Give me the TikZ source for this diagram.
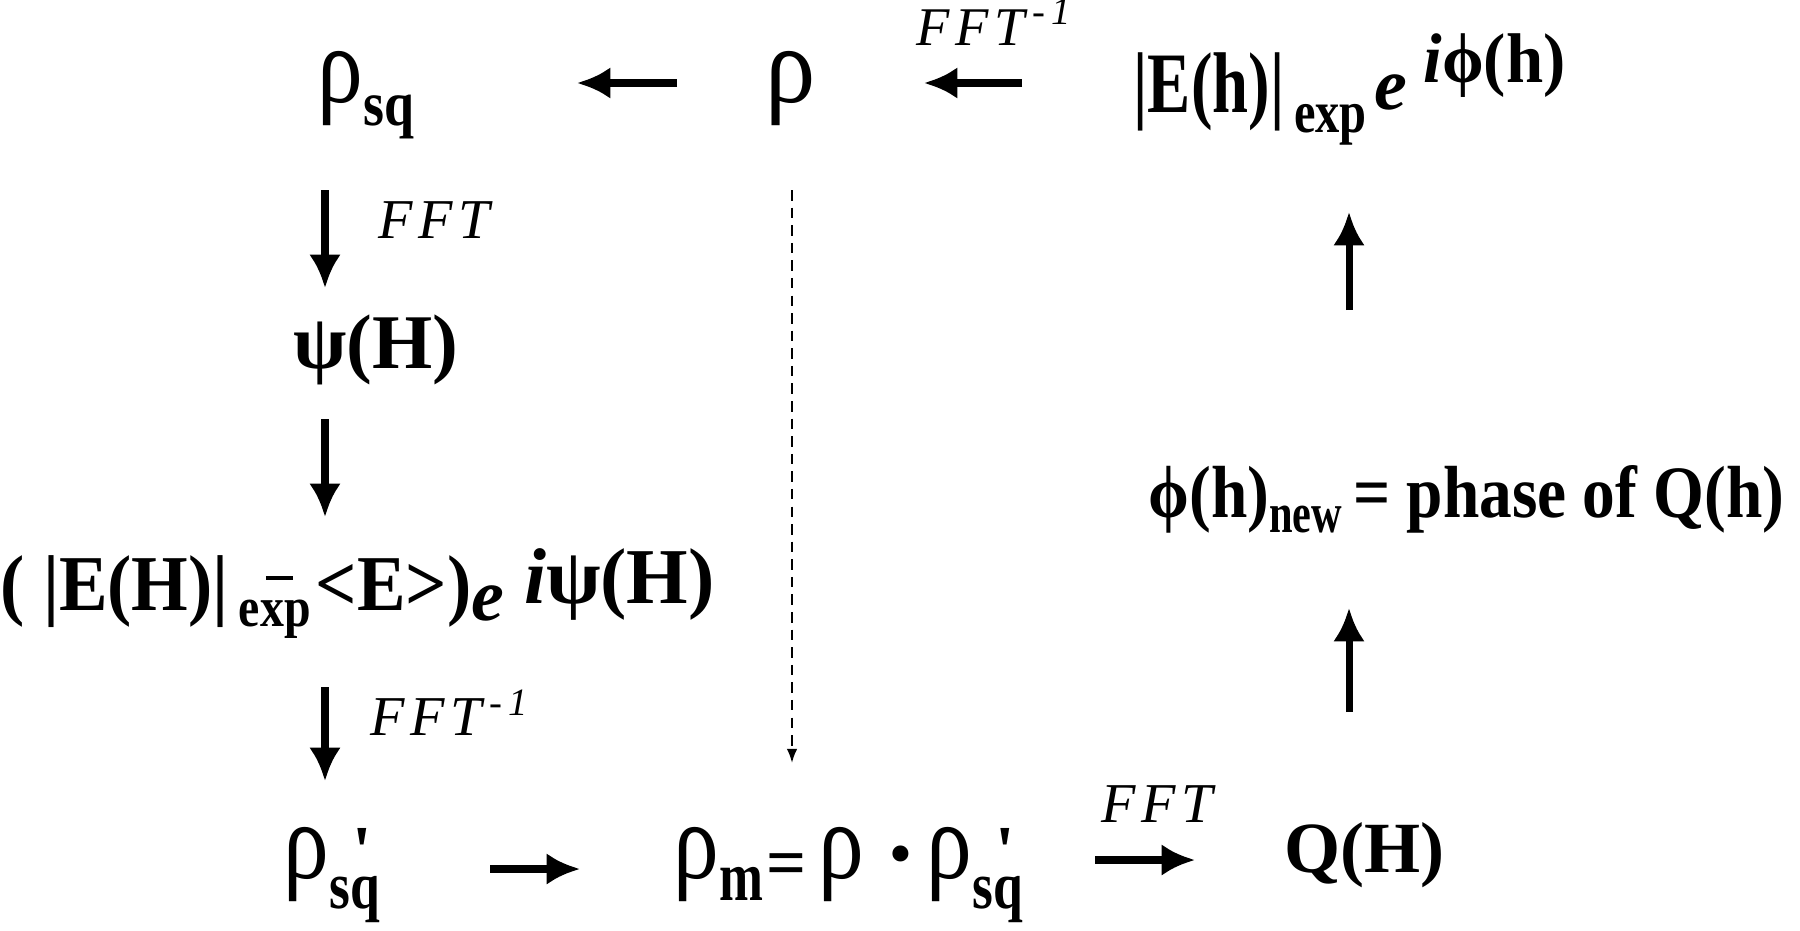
\documentclass[tikz,border=0pt]{standalone}
\usepackage{fontspec}
\setmainfont{Liberation Serif}
\usetikzlibrary{arrows.meta}
% raise, horizontal scale, size, content
\newcommand\tx[4]{\raisebox{#1}{\scalebox{#2}[1]{\fontsize{#3}{#3}\selectfont #4}}}
\newcommand\rh{\tx{2pt}{0.84}{31}{\mdseries ρ}}
\newcommand\prsq{\makebox[0pt][l]{\hspace{2.3mm}\tx{1.2mm}{1}{20}{\textquotesingle}}\tx{-2.2mm}{0.8}{19}{sq}}
\newcommand\inv{\hspace{0.8mm}\tx{2.0mm}{1}{11}{-\hspace{0.6mm}\textit{1}}}
\newcommand\fft{F\hspace{0.1em}F\hspace{0.1em}T}
\begin{document}
\begin{tikzpicture}[x=0.01cm,y=-0.01cm,
  txt/.style={inner sep=0pt, font=\fontsize{20}{24}\selectfont\bfseries},
  lbl/.style={inner sep=0pt, font=\fontsize{16}{20}\selectfont\itshape},
  arr/.style={line width=2pt, -{Latex[length=9.5pt,width=9pt]}},
  dsh/.style={line width=0.6pt, dash pattern=on 3pt off 2pt, -{Latex[length=4pt,width=3pt]}}]
\useasboundingbox (0,0) rectangle (1800,930);
% nodes
\node[txt, anchor=base west] (rsq) at (317,110) {\rh\tx{-1.5mm}{0.85}{18}{sq}};
\node[txt, anchor=base west] (rho) at (765,110) {\scalebox{1.1}[1]{\rh}};
\node[txt, anchor=base west] (Etop) at (1133,112) {\tx{0pt}{0.75}{24.5}{|E(h)|}\hspace{1mm}\tx{-2mm}{0.81}{17}{exp}\hspace{0.8mm}\tx{0.3mm}{1}{21}{\itshape e}\hspace{1.6mm}\tx{2.9mm}{0.95}{20}{\itshape i\upshape ϕ(h)}};
\node[txt, anchor=base west] (psi) at (293,368) {\tx{0pt}{1}{22}{ψ(H)}};
\node[txt, anchor=base west] (EH) at (0,610) {\tx{0pt}{0.92}{22.5}{(\ |E(H)|}\hspace{1mm}\makebox[0pt][l]{\hspace{2.7mm}\rule[3mm]{2.7mm}{0.35mm}}\tx{-1.6mm}{0.85}{16}{exp}\hspace{0.5mm}\tx{0pt}{0.92}{22.5}{<E>)}\tx{-1mm}{1}{21}{\itshape e}\hspace{2mm}\tx{0.7mm}{1}{22.5}{\itshape i\upshape ψ(H)}};
\node[txt, anchor=base west] (rsqp) at (283,886) {\rh\prsq};
\node[txt, anchor=base west] (rm) at (673,886) {\rh\tx{-1.4mm}{0.75}{20}{m}\hspace{0.3mm}=\hspace{1.2mm}\rh\hspace{2mm}\tx{0pt}{1}{28}{·}\hspace{1mm}\rh\prsq};
\node[txt, anchor=base west] (Q) at (1284,872) {\tx{0pt}{1}{20.5}{Q(H)}};
\node[txt, anchor=base west] (phi) at (1148,517) {\scalebox{0.885}[1]{\fontsize{21}{24}\selectfont ϕ(h)\tx{-1.5mm}{0.85}{16}{new}\,= phase of Q(h)}};
% labels
\node[lbl, anchor=base west] (l1) at (916,45) {\fontsize{15.5}{18}\selectfont\fft\inv};
\node[lbl, anchor=base west] (l2) at (378,238) {\fft};
\node[lbl, anchor=base west] (l3) at (370,735) {\fft\inv};
\node[lbl, anchor=base west] (l4) at (1101,822) {\fft};
% arrow end points
\coordinate (a1s) at (677,83);  \coordinate (a1e) at (577,83);
\coordinate (a2s) at (1022,83); \coordinate (a2e) at (924,83);
\coordinate (b1s) at (325,190); \coordinate (b1e) at (325,288);
\coordinate (b2s) at (325,419); \coordinate (b2e) at (325,517);
\coordinate (b3s) at (325,687); \coordinate (b3e) at (325,781);
\coordinate (c1s) at (490,869); \coordinate (c1e) at (580,869);
\coordinate (c2s) at (1095,860); \coordinate (c2e) at (1195,860);
\coordinate (d1s) at (1349,712); \coordinate (d1e) at (1349,608);
\coordinate (d2s) at (1349,310); \coordinate (d2e) at (1349,212);
\coordinate (ds) at (792,190); \coordinate (de) at (792,763);
\draw[arr] (a1s) -- (a1e);
\draw[arr] (a2s) -- (a2e);
\draw[arr] (b1s) -- (b1e);
\draw[arr] (b2s) -- (b2e);
\draw[arr] (b3s) -- (b3e);
\draw[arr] (c1s) -- (c1e);
\draw[arr] (c2s) -- (c2e);
\draw[arr] (d1s) -- (d1e);
\draw[arr] (d2s) -- (d2e);
\draw[dsh] (ds) -- (de);
\end{tikzpicture}
\end{document}
